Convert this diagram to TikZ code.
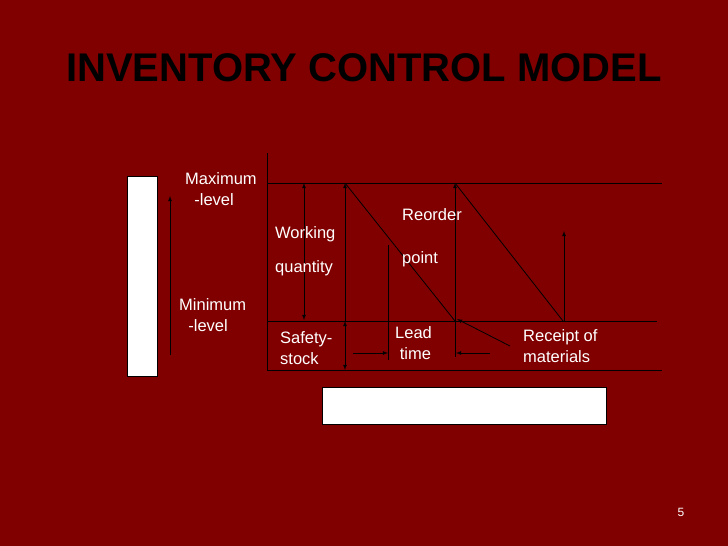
\documentclass[tikz,border=0pt]{standalone}
\usepackage{fontspec}
\setmainfont{Liberation Sans}
\begin{document}
\begin{tikzpicture}[x=1pt,y=-1pt,
  lbl/.style={text=white,font=\fontsize{16.5}{21}\selectfont,align=left,inner sep=0pt,anchor=north west},
  ln/.style={black,line width=0.8pt},
  ar/.style={ln,-latex}]
\fill[red!50!black] (0,0) rectangle (728,546);
\useasboundingbox (0,0) rectangle (728,546);
\node[text=black,font=\bfseries\fontsize{40}{46}\selectfont] (title) at (364,68) {INVENTORY CONTROL MODEL};
\node[text=white,font=\fontsize{12}{14}\selectfont] (pg) at (681,512) {5};
\node[fill=white,draw=black,minimum width=30,minimum height=200,inner sep=0pt] (lbox) at (142.5,276.5) {};
\node[fill=white,draw=black,minimum width=284,minimum height=37,inner sep=0pt] (bbox) at (464,405.5) {};
% axes
\coordinate (a1) at (267,153); \coordinate (a2) at (267,370);
\draw[ln] (a1) -- (a2);
\coordinate (mx1) at (267,183); \coordinate (mx2) at (662,183);
\coordinate (mn1) at (267,321); \coordinate (mn2) at (657,321);
\coordinate (b2) at (662,370);
\draw[ln] (mx1) -- (mx2);
\draw[ln] (mn1) -- (mn2);
\draw[ln] (a2) -- (b2);
% left arrow
\coordinate (la1) at (170,355); \coordinate (la2) at (170,196);
\draw[ar] (la1) -- (la2);
% working quantity
\coordinate (w1) at (304,183); \coordinate (w2) at (304,320);
\draw[ln,latex-latex] (w1) -- (w2);
% x=345
\coordinate (p1) at (345,183); \coordinate (p2) at (345,321); \coordinate (p3) at (345,370);
\draw[ar] (p2) -- (p1);
\draw[ln,latex-latex] (p2) -- (p3);
% diagonals
\coordinate (q1) at (455,321); \coordinate (q0) at (455,183); \coordinate (q3) at (455,357);
\coordinate (r1) at (563,321);
\draw[ln] (p1) -- (q1);
\draw[ln] (q0) -- (r1);
\draw[ar] (q3) -- (q0);
\coordinate (s1) at (564,321); \coordinate (s2) at (564,231);
\draw[ar] (s1) -- (s2);
% lead time vertical
\coordinate (l1) at (388,245); \coordinate (l2) at (388,360);
\draw[ln] (l1) -- (l2);
\coordinate (sa) at (353,353); \coordinate (sb) at (388,353);
\draw[ar] (sa) -- (sb);
\coordinate (ra) at (490,353); \coordinate (rb) at (456,353);
\draw[ar] (ra) -- (rb);
\coordinate (rc) at (510,346); \coordinate (rd) at (457,319);
\draw[ln,-latex] (rc) -- (rd);
% labels
\node[lbl] (maxl) at (185,172) {Maximum\\\ \ -level};
\node[lbl] (minl) at (179,298) {Minimum\\\ \ -level};
\node[lbl] (work) at (275,226) {Working};
\node[lbl] (quant) at (275,260) {quantity};
\node[lbl] (reord) at (402,208) {Reorder};
\node[lbl] (point) at (402,251) {point};
\node[lbl] (safe) at (280,331) {Safety-\\stock};
\node[lbl] (lead) at (395,326) {Lead\\\ time};
\node[lbl] (rec) at (523,329) {Receipt of\\materials};
\end{tikzpicture}
\end{document}
